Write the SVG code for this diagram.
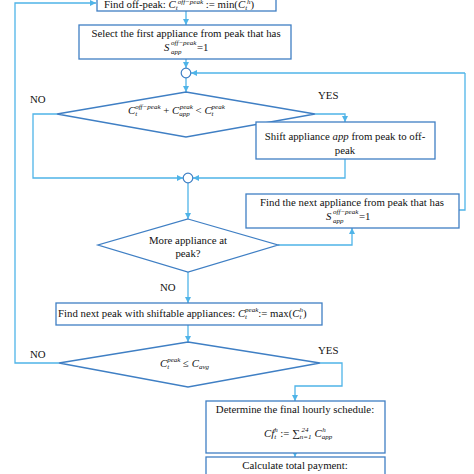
<svg xmlns="http://www.w3.org/2000/svg" width="474" height="474" viewBox="0 0 474 474">
<defs>
<marker id="ah" viewBox="0 0 10 10" refX="10" refY="5" markerWidth="6" markerHeight="6" orient="auto" markerUnits="userSpaceOnUse"><path d="M0,0 L10,5 L0,10 z" fill="#4FB4E8"/></marker>
<style>
.box{fill:#fff;stroke:#3F7FC4;stroke-width:1.3}
.con{fill:none;stroke:#4FB4E8;stroke-width:1.3}
.t{font-family:"Liberation Serif","DejaVu Serif",serif;font-size:10.8px;fill:#111}
.m{font-family:"Liberation Serif","DejaVu Serif",serif;font-size:10.8px;font-style:italic;fill:#111}
.s{font-family:"Liberation Serif","DejaVu Serif",serif;font-size:7px;font-style:italic;fill:#111}
.c{text-anchor:middle}
</style>
</defs>
<rect width="474" height="474" fill="#fff"/>
<g id="connectors">
<path class="con" d="M59,363 H15 V3 H96" marker-end="url(#ah)"/>
<path class="con" d="M186,11 V25" marker-end="url(#ah)"/>
<path class="con" d="M186,59 V68" marker-end="url(#ah)"/>
<path class="con" d="M465,73 H191" marker-end="url(#ah)"/>
<path class="con" d="M186,78 V92" marker-end="url(#ah)"/>
<path class="con" d="M57,114 H33 V178 H183" marker-end="url(#ah)"/>
<path class="con" d="M315,114 H345 V122" marker-end="url(#ah)"/>
<path class="con" d="M345,159 V178 H193" marker-end="url(#ah)"/>
<path class="con" d="M188,183 V219" marker-end="url(#ah)"/>
<path class="con" d="M278,245 H352 V228" marker-end="url(#ah)"/>
<path class="con" d="M459,210 H465 V73"/>
<path class="con" d="M188,272 V303" marker-end="url(#ah)"/>
<path class="con" d="M188,325 V342" marker-end="url(#ah)"/>
<path class="con" d="M320,363 H342 V386 H295 V401" marker-end="url(#ah)"/>
<path class="con" d="M295,453 V457" marker-end="url(#ah)"/>
</g>
<g id="n-offpeak">
<rect class="box" x="97" y="-20" width="179" height="31"/>
<text class="t" x="104" y="8">Find off-peak: <tspan class="m">C</tspan><tspan class="s" dy="2">t</tspan><tspan class="s" dy="-6">off−peak</tspan><tspan dy="4"> := min(</tspan><tspan class="m">C</tspan><tspan class="s" dy="2">t</tspan><tspan class="s" dy="-6">h</tspan><tspan dy="4">)</tspan></text>
</g>
<g id="n-select">
<rect class="box" x="79" y="25" width="212" height="34"/>
<text class="t c" x="186" y="37">Select the first appliance from peak that has</text>
<text class="m" x="164" y="51">S</text><text class="s" x="171" y="54">app</text><text class="s" x="171" y="45">off−peak</text><text class="t" x="197" y="51">=1</text>
</g>
<g id="j1"><circle cx="186" cy="73" r="4.8" fill="#fff" stroke="#3F7FC4" stroke-width="1.2"/></g>
<g id="d1">
<polygon class="box" points="186,92 315,114 186,137 57,114"/>
<text class="m" x="128" y="114">C<tspan class="s" dy="2">t</tspan><tspan class="s" dx="-2" dy="-7">off−peak</tspan><tspan class="t" dy="5" font-style="normal"> + </tspan>C<tspan class="s" dy="2">app</tspan><tspan class="s" dx="-10" dy="-7">peak</tspan><tspan class="t" dy="5" font-style="normal"> &lt; </tspan>C<tspan class="s" dy="2">t</tspan><tspan class="s" dx="-2" dy="-7">peak</tspan></text>
<text class="t" x="30" y="103">NO</text>
<text class="t" x="318" y="99">YES</text>
</g>
<g id="n-shift">
<rect class="box" x="256" y="122" width="179" height="37"/>
<text class="t c" x="345" y="140">Shift appliance <tspan font-style="italic">app</tspan> from peak to off-</text>
<text class="t c" x="345" y="154">peak</text>
</g>
<g id="j2"><circle cx="188" cy="178" r="4.8" fill="#fff" stroke="#3F7FC4" stroke-width="1.2"/></g>
<g id="n-next">
<rect class="box" x="246" y="194" width="213" height="34"/>
<text class="t c" x="352" y="206">Find the next appliance from peak that has</text>
<text class="m" x="326" y="220">S</text><text class="s" x="333" y="223">app</text><text class="s" x="333" y="214">off−peak</text><text class="t" x="359" y="220">=1</text>
</g>
<g id="d2">
<polygon class="box" points="188,219 278,245 188,272 98,245"/>
<text class="t c" x="188" y="244">More appliance at</text>
<text class="t c" x="188" y="257">peak?</text>
<text class="t" x="160" y="291">NO</text>
</g>
<g id="n-nextpeak">
<rect class="box" x="56" y="303" width="266" height="22"/>
<text class="t" x="58" y="317">Find next peak with shiftable appliances: <tspan class="m">C</tspan><tspan class="s" dy="2">t</tspan><tspan class="s" dx="-2" dy="-7">peak</tspan><tspan dy="5">:= max(</tspan><tspan class="m">C</tspan><tspan class="s" dy="2">t</tspan><tspan class="s" dx="-2" dy="-7">h</tspan><tspan dy="5">)</tspan></text>
</g>
<g id="d3">
<polygon class="box" points="188,342 320,363 188,387 59,363"/>
<text class="m" x="160" y="367">C<tspan class="s" dy="2">t</tspan><tspan class="s" dx="-2" dy="-7">peak</tspan><tspan class="t" dy="5" font-style="normal"> ≤ </tspan>C<tspan class="s" dy="2">avg</tspan></text>
<text class="t" x="30" y="358">NO</text>
<text class="t" x="318" y="354">YES</text>
</g>
<g id="n-final">
<rect class="box" x="206" y="401" width="179" height="52"/>
<text class="t c" x="295" y="413">Determine the final hourly schedule:</text>
<text class="m" x="264" y="437">Cf<tspan class="s" dy="2">t</tspan><tspan class="s" dx="-2" dy="-7">h</tspan><tspan class="t" dy="5" font-style="normal"> := ∑</tspan><tspan class="s" dy="2" font-style="normal">n=1</tspan><tspan class="s" dx="-10" dy="-7" font-style="normal">24</tspan><tspan dy="5" dx="6">C</tspan><tspan class="s" dy="2">app</tspan><tspan class="s" dx="-10" dy="-7">h</tspan></text>
</g>
<g id="n-payment">
<rect class="box" x="206" y="457" width="179" height="30"/>
<text class="t c" x="295" y="469">Calculate total payment:</text>
</g>
</svg>
